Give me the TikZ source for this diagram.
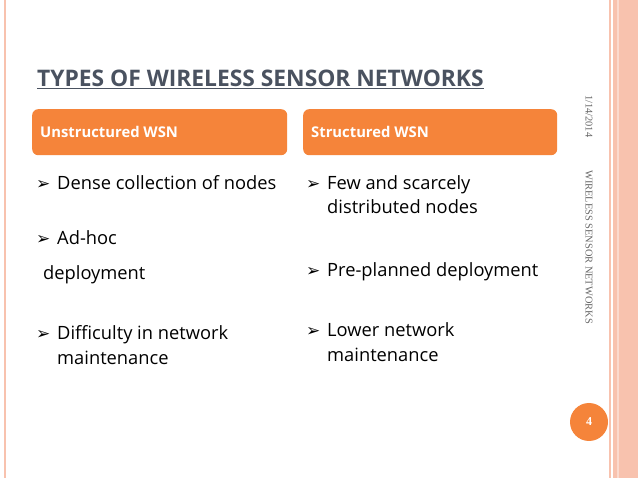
\documentclass[tikz,border=0pt]{standalone}
\usepackage{fontspec}
\setmainfont{Open Sans}
\newfontfamily\dejavu{DejaVu Sans}
\newfontfamily\timesf{Liberation Serif}
\definecolor{orng}{HTML}{F5843A}
\definecolor{salmon}{HTML}{F8C2AE}
\definecolor{slate}{HTML}{4A5260}
\begin{document}
\begin{tikzpicture}[x=1pt,y=-1pt,
  hdr/.style={fill=orng,rounded corners=6pt,minimum height=46pt,anchor=north west,inner sep=0},
  hdrtxt/.style={text=white,font=\bfseries\fontsize{14.8}{16}\selectfont,anchor=west,inner sep=0},
  blt/.style={anchor=base west,inner sep=0,font=\dejavu\fontsize{17}{18}\selectfont},
  txt/.style={anchor=base west,inner sep=0,font=\fontsize{18.3}{22}\selectfont}]
\useasboundingbox (0,0) rectangle (638,478);
\fill[white] (0,0) rectangle (638,478);
\draw[salmon,line width=2pt] (5,0) -- (5,478);
\fill[salmon] (609,0) rectangle (638,478);
\fill[white] (611,0) rectangle (613,478);
\fill[white!40!salmon] (617,0) rectangle (619,478);
\node[anchor=base west,inner sep=0,text=slate,font=\bfseries\fontsize{22.8}{26}\selectfont] (title) at (37,87) {\underline{TYPES OF WIRELESS SENSOR NETWORKS}};
\node[hdr,minimum width=255pt] (h1) at (32,109) {};
\node[hdr,minimum width=254pt] (h2) at (303,109) {};
\node[hdrtxt] (t1) at (40,132) {Unstructured WSN};
\node[hdrtxt] (t2) at (311,132) {Structured WSN};
\node[blt] (b1) at (36,190) {➢}; \node[txt] (l1) at (57,190) {Dense collection of nodes};
\node[blt] (b2) at (36,245) {➢}; \node[txt] (l2) at (57,245) {Ad-hoc};
\node[txt] (l3) at (43,280) {deployment};
\node[blt] (b3) at (36,340) {➢}; \node[txt] (l4) at (57,340) {Difficulty in network};
\node[txt] (l5) at (57,365) {maintenance};
\node[blt] (b4) at (306,190) {➢}; \node[txt] (r1) at (327,190) {Few and scarcely};
\node[txt] (r2) at (327,214) {distributed nodes};
\node[blt] (b5) at (306,277) {➢}; \node[txt] (r3) at (327,277) {Pre-planned deployment};
\node[blt] (b6) at (306,337) {➢}; \node[txt] (r4) at (327,337) {Lower network};
\node[txt] (r5) at (327,362) {maintenance};
\node[rotate=-90,anchor=west,inner sep=0,text=gray!80!black,font=\timesf\fontsize{10.4}{12}\selectfont] (d) at (589,95) {1/14/2014};
\node[rotate=-90,anchor=west,inner sep=0,text=gray!80!black,font=\timesf\fontsize{10.4}{12}\selectfont] (w) at (589,170) {WIRELESS SENSOR NETWORKS};
\node[circle,fill=orng,minimum size=38pt,inner sep=0,text=white,font=\timesf\bfseries\fontsize{12}{13}\selectfont] (pg) at (589,422) {4};
\end{tikzpicture}
\end{document}
